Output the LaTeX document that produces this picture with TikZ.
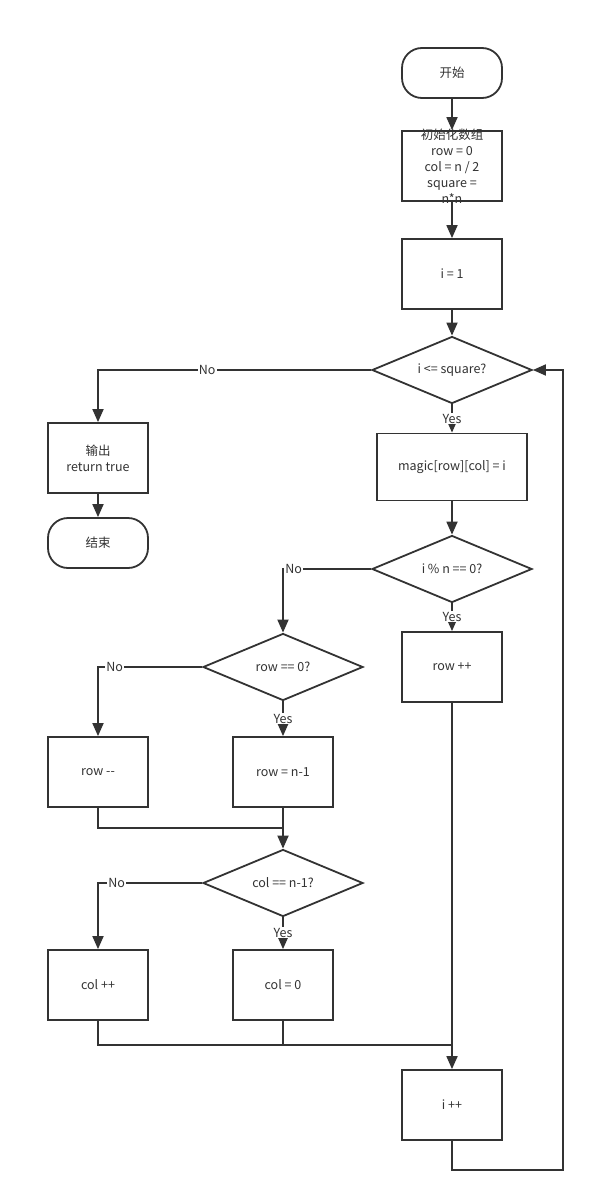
\documentclass[tikz,border=0pt]{standalone}
\usepackage{fontspec}
\setmainfont{Noto Sans CJK SC}
\usetikzlibrary{shapes.geometric,arrows.meta}
\definecolor{ink}{HTML}{333333}
\tikzset{
  base/.style={draw=ink,line width=1.8pt,text=ink,font=\fontsize{12.5}{16}\selectfont,align=center,fill=white},
  term/.style={base,rounded corners=20pt,minimum width=100pt,minimum height=50pt,inner sep=0pt},
  proc/.style={base,minimum width=100pt,minimum height=70pt,inner sep=0pt},
  wide/.style={base,minimum width=150pt,minimum height=67pt,inner sep=0pt},
  dec/.style={base,diamond,aspect=2.4,minimum width=160pt,minimum height=67pt,inner sep=0pt},
  conn/.style={draw=ink,line width=1.8pt},
  arr/.style={conn,-{Triangle[length=13pt,width=11pt]}},
  lab/.style={fill=white,text=ink,inner sep=1pt,font=\fontsize{12.5}{14}\selectfont},
}
\begin{document}
\begin{tikzpicture}[x=1pt,y=-1pt]
\useasboundingbox[fill=white] (0,0) rectangle (595,1201);
\node[term] (start) at (452,73) {开始};
\node[proc,label={[text=ink,font=\fontsize{12.5}{16}\selectfont,align=center]center:初始化数组\\row = 0\\col = n / 2\\square =\\n*n}] (init) at (452,166) {};
\node[proc] (i1) at (452,274) {i = 1};
\node[dec] (d1) at (452,370) {i <= square?};
\node[wide] (magic) at (452,467) {magic[row][col] = i};
\node[dec] (d2) at (452,569) {i \% n == 0?};
\node[proc] (rowpp) at (452,667) {row ++};
\node[dec] (d3) at (283,667) {row == 0?};
\node[proc] (rowmm) at (98,772) {row -{}-};
\node[proc] (rown1) at (283,772) {row = n-1};
\node[dec] (d4) at (283,883) {col == n-1?};
\node[proc] (colpp) at (98,985) {col ++};
\node[proc] (col0) at (283,985) {col = 0};
\node[proc] (ipp) at (452,1105) {i ++};
\node[proc] (out) at (98,458) {输出\\return true};
\node[term] (end) at (98,543) {结束};
\coordinate (m1) at (283,828);
\coordinate (m2) at (452,1045);
\coordinate (lp) at (563,1170);

\draw[arr] (start) -- (init);
\draw[arr] (init) -- (i1);
\draw[arr] (i1) -- (d1);
\draw[arr] (d1.west) -| node[lab,pos=0.3] (no1) {No} (out.north);
\draw[arr] (d1.south) -- node[lab,pos=0.5] (yes1) {Yes} (magic.north);
\draw[arr] (out) -- (end);
\draw[arr] (magic) -- (d2);
\draw[arr] (d2.west) -| node[lab,pos=0.44] (no2) {No} (d3.north);
\draw[arr] (d2.south) -- node[lab,pos=0.48] (yes2) {Yes} (rowpp.north);
\draw[arr] (d3.west) -| node[lab,pos=0.42] (no3) {No} (rowmm.north);
\draw[arr] (d3.south) -- node[lab,pos=0.5] (yes3) {Yes} (rown1.north);
\draw[conn] (rowmm.south) |- (m1);
\draw[arr] (rown1.south) -- (m1) -- (d4.north);
\draw[arr] (d4.west) -| node[lab,pos=0.41] (no4) {No} (colpp.north);
\draw[arr] (d4.south) -- node[lab,pos=0.48] (yes4) {Yes} (col0.north);
\draw[conn] (colpp.south) |- (m2);
\draw[conn] (col0.south) -- (col0.south |- m2);
\draw[arr] (rowpp.south) -- (ipp.north);
\draw[arr] (ipp.south) |- (lp) |- (d1.east);
\end{tikzpicture}
\end{document}
